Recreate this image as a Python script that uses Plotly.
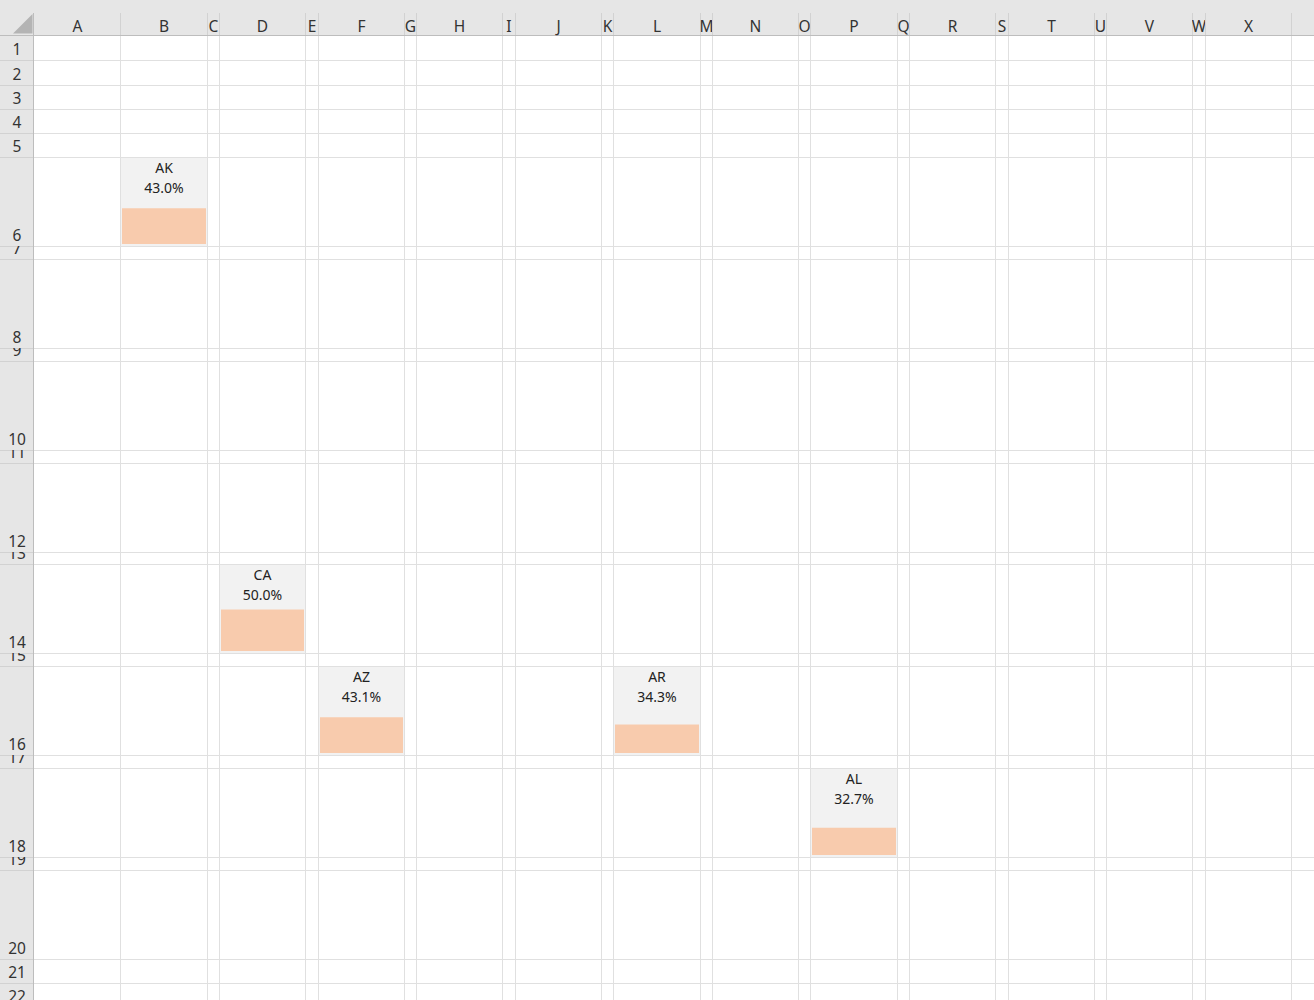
import plotly.graph_objects as go

W, H = 1314, 1000

# tile map data
states = ["AK", "CA", "AZ", "AR", "AL"]
share = [43.0, 50.0, 43.1, 34.3, 32.7]
tile_col = ["B", "D", "F", "L", "P"]
tile_row = [6, 14, 16, 16, 18]

col_labels = list("ABCDEFGHIJKLMNOPQRSTUVWX")
row_labels = list(range(1, 23))

# sheet geometry, in screen pixels
HDR_W, HDR_H = 34, 36
WIDE, NARROW = 86.37, 12.2
TALL, SMALL, NORMAL = 89.0, 12.77, 24.26
BAR_FULL = 83  # px for 100 %

GRID = "#e0e0e0"
HDR_BG = "#e6e6e6"
HDR_SEP = "#d2d2d2"
HDR_EDGE = "#bdbdbd"
TILE_BG = "#f2f2f2"
BAR = "#f8cbad"
FONT = "Noto Sans"

col_w = [WIDE if i == 0 or i % 2 else NARROW for i in range(len(col_labels))]
row_h = [NORMAL if r <= 5 or r >= 21 else (TALL if r % 2 == 0 else SMALL) for r in row_labels]

col_edges = [HDR_W]
for w in col_w:
    col_edges.append(col_edges[-1] + w)
row_edges = [HDR_H]
for h in row_h:
    row_edges.append(row_edges[-1] + h)
col_px = [round(e) for e in col_edges]
row_px = [round(e) for e in row_edges]


def col_span(letter):
    i = col_labels.index(letter)
    return col_px[i], col_px[i + 1]


def row_span(r):
    return row_px[r - 1], row_px[r]


fig = go.Figure()
axes = {}


def panel(x0, x1, y0, y1, xr=None, yr=None):
    n = len(axes) // 2 + 2
    axes[f"xaxis{n}"] = dict(domain=[x0 / W, x1 / W], range=xr or [x0, x1],
                             anchor=f"y{n}", visible=False, fixedrange=True)
    axes[f"yaxis{n}"] = dict(domain=[1 - y1 / H, 1 - y0 / H], range=yr or [y1, y0],
                             anchor=f"x{n}", visible=False, fixedrange=True)
    return f"x{n}", f"y{n}"


shapes = []


def line(x0, y0, x1, y1, color):
    shapes.append(dict(type="line", x0=x0, y0=y0, x1=x1, y1=y1, layer="below",
                       line=dict(color=color, width=1)))


def rect(x0, y0, x1, y1, color):
    shapes.append(dict(type="rect", x0=x0, y0=y0, x1=x1, y1=y1, layer="below",
                       fillcolor=color, line_width=0))


# headers background
rect(0, 0, W, HDR_H, HDR_BG)
rect(0, 0, HDR_W, H, HDR_BG)

# tiles background
for c, r in zip(tile_col, tile_row):
    x0, x1 = col_span(c)
    y0, y1 = row_span(r)
    rect(x0 + 1, y0 + 1, x1, y1, TILE_BG)

# cell gridlines
for x in col_px[1:]:
    line(x + 0.5, HDR_H, x + 0.5, H, GRID)
    line(x + 0.5, 13, x + 0.5, HDR_H, HDR_SEP)
for y in row_px[1:]:
    line(HDR_W, y + 0.5, W, y + 0.5, GRID)
    line(0, y + 0.5, HDR_W, y + 0.5, HDR_SEP)

line(0, HDR_H - 0.5, W, HDR_H - 0.5, HDR_EDGE)
line(HDR_W - 0.5, 13, HDR_W - 0.5, H, HDR_EDGE)
shapes.append(dict(type="path", path="M 13 33.5 L 32.5 33.5 L 32.5 14 Z", layer="below",
                   fillcolor="#b4b4b4", line_width=0))

# column header letters
for i, lab in enumerate(col_labels):
    x0, x1 = col_px[i], col_px[i + 1]
    kw = {}
    if col_w[i] < 20:
        xa, ya = panel(x0, x1, 0, HDR_H - 1)
        kw = dict(xaxis=xa, yaxis=ya)
    fig.add_trace(go.Scatter(x=[(x0 + x1) / 2 + 0.5], y=[28.5], mode="text", text=[lab],
                             textposition="middle center", cliponaxis=True,
                             textfont=dict(family=FONT, size=15.5, color="#333333"),
                             hoverinfo="skip", **kw))

# row header numbers
for r in row_labels:
    y0, y1 = row_span(r)
    kw = {}
    if row_h[r - 1] < 20:
        xa, ya = panel(0, HDR_W - 1, y0, y1)
        kw = dict(xaxis=xa, yaxis=ya)
    fig.add_trace(go.Scatter(x=[17], y=[y1 - 9], mode="text", text=[str(r)],
                             textposition="middle center", cliponaxis=True,
                             textfont=dict(family=FONT, size=15.5, color="#333333"),
                             hoverinfo="skip", **kw))

# tiles: label, value and bar
for s, v, c, r in zip(states, share, tile_col, tile_row):
    x0, x1 = col_span(c)
    y0, y1 = row_span(r)
    xc = (x0 + x1) / 2 + 0.5
    fig.add_trace(go.Scatter(x=[xc, xc], y=[y0 + 12.3, y0 + 32.3], mode="text",
                             text=[s, f"{v:.1f}%"], textposition="middle center",
                             textfont=dict(family=FONT, size=14, color="#222222"),
                             hoverinfo="skip"))
    bottom = y1 - 2
    xa, ya = panel(x0 + 2, x1 - 1, bottom - BAR_FULL, bottom, xr=[-0.5, 0.5], yr=[0, 100])
    fig.add_trace(go.Bar(x=[0], y=[v], width=1, xaxis=xa, yaxis=ya,
                         marker=dict(color=BAR, line_width=0), hoverinfo="skip"))

fig.update_layout(
    width=W, height=H, autosize=False,
    margin=dict(l=0, r=0, t=0, b=0, pad=0),
    paper_bgcolor="white", plot_bgcolor="rgba(0,0,0,0)",
    showlegend=False,
    xaxis=dict(domain=[0, 1], range=[0, W], visible=False, fixedrange=True),
    yaxis=dict(domain=[0, 1], range=[H, 0], visible=False, fixedrange=True),
    shapes=shapes,
    **axes,
)

# the page body has a default margin; drop it so the sheet starts at the corner
fig.write_html("out.html", config={"displayModeBar": False},
               post_script="document.body.style.margin='0';document.body.style.overflow='hidden';")
